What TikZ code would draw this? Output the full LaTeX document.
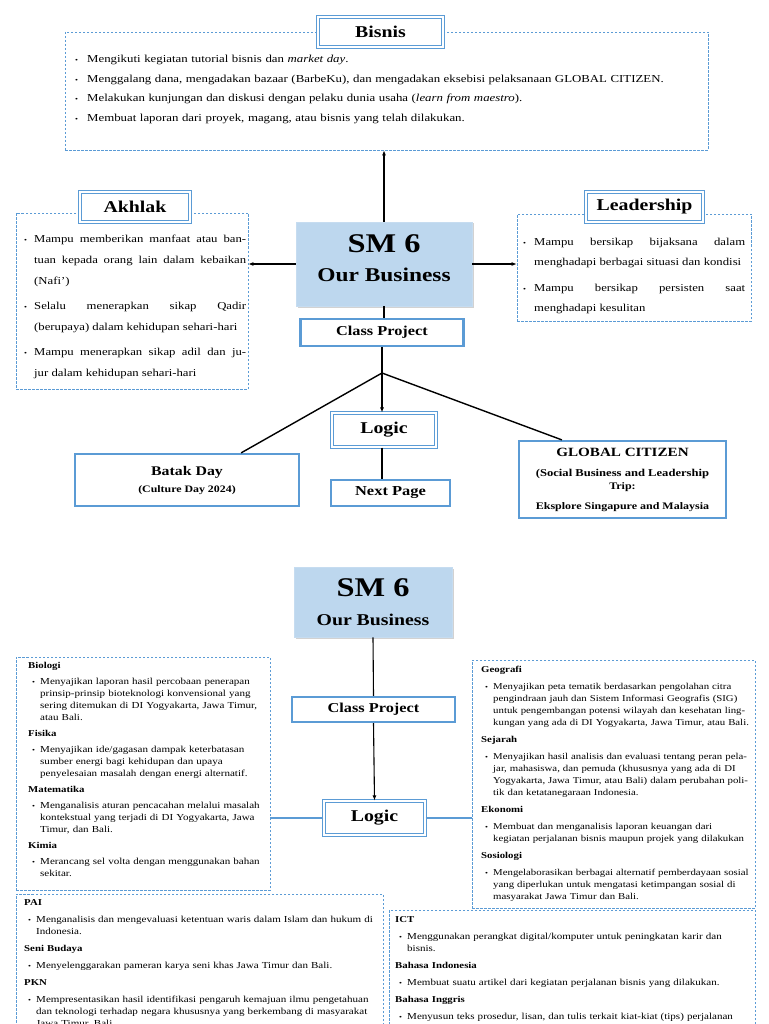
\documentclass[tikz,border=0pt]{standalone}
\usepackage{fontspec}
\setmainfont{Liberation Serif}[FakeStretch=1.2]
\usetikzlibrary{arrows.meta,shadows}
\definecolor{ofblue}{RGB}{91,155,213}
\definecolor{smfill}{RGB}{189,215,238}
\newcommand{\bul}{{\fontsize{7}{7}\selectfont\textbullet}}
\newcommand{\itm}[1][12pt]{\noindent\hangindent=#1\hangafter=1\makebox[#1][l]{\bul}\ignorespaces}
\newcommand{\sitm}{\noindent\hangindent=12pt\hangafter=1\hspace*{4pt}\makebox[8pt][l]{\bul}\ignorespaces}
\newcommand{\subj}[1]{\noindent{\fontsize{9}{12}\selectfont\bfseries #1}}

\begin{document}
\begin{tikzpicture}[x=1pt,y=-1pt,
      dashbox/.style={draw=ofblue, line width=0.7pt, dash pattern=on 2.5pt off 1.5pt, minimum width=#1},
      titlebox/.style={draw=ofblue, double=white, double distance=1.1pt, line width=1.1pt, fill=white,
        drop shadow={opacity=0.25, shadow xshift=1pt, shadow yshift=-1pt},
        font=\fontsize{16.5}{18}\selectfont\bfseries, inner sep=0pt},
      thickbox/.style={draw=ofblue, line width=2.2pt, fill=white, font=\bfseries, align=center, inner sep=0pt},
      smbox/.style={draw=ofblue!35, line width=0.8pt, fill=smfill, align=center, font=\bfseries, inner sep=0pt,
        drop shadow={opacity=0.35, shadow xshift=1.5pt, shadow yshift=-1.5pt}},
      bodytxt/.style={inner sep=0pt, anchor=north west, align=left},
      link/.style={line width=1.4pt},
      arrowlink/.style={line width=1.1pt, -{Latex[length=5pt,width=4pt]}},
      bluelink/.style={draw=ofblue, line width=1.6pt}]

  \useasboundingbox (0,0) rectangle (768,1024);
  \clip (0,0) rectangle (768,1024);
  \fill[white] (0,0) rectangle (768,1024);

  % first page: the three outer boxes
  \node[dashbox=643, minimum height=118] (bisnis) at (386.5,91) {};
  \node[dashbox=232, minimum height=176] (akhlak) at (132,301) {};
  \node[dashbox=234, minimum height=107] (leader) at (634,267.5) {};
  \node[titlebox, minimum width=125, minimum height=30] (bisnistitle) at (380.5,32) {Bisnis};
  \node[titlebox, minimum width=110, minimum height=30] (akhlaktitle) at (135,207) {Akhlak};
  \node[titlebox, minimum width=117, minimum height=30] (leadertitle) at (644.5,207) {Leadership};

  \node[bodytxt, text width=630, font=\fontsize{10.7}{19.5}\selectfont] (bisnistxt) at (75,55) {
    \itm Mengikuti kegiatan tutorial bisnis  dan \textit{market day}.

    \itm Menggalang dana, mengadakan bazaar (BarbeKu), dan mengadakan eksebisi pelaksanaan GLOBAL CITIZEN.

    \itm Melakukan kunjungan dan diskusi dengan pelaku dunia usaha  (\textit{learn from maestro}).

    \itm Membuat laporan dari proyek, magang, atau bisnis yang telah dilakukan.\par};
  \node[bodytxt, align=justify, text width=222, font=\fontsize{10.6}{21}\selectfont,
        execute at begin node=\setlength{\parskip}{4pt}] (akhlaktxt) at (24,235) {
    \itm[10pt] Mampu memberikan manfaat atau ban-\linebreak tuan kepada orang lain dalam kebaikan\linebreak (Nafi’)

    \itm[10pt] Selalu menerapkan sikap Qadir\linebreak (berupaya) dalam kehidupan sehari-hari

    \itm[10pt] Mampu menerapkan sikap adil dan ju-\linebreak jur dalam kehidupan sehari-hari\par};
  \node[bodytxt, align=justify, text width=222, font=\fontsize{10.6}{20}\selectfont,
        execute at begin node=\setlength{\parskip}{6pt}] (leadertxt) at (523,238) {
    \itm[11pt] Mampu bersikap bijaksana dalam\linebreak menghadapi berbagai situasi dan kondisi

    \itm[11pt] Mampu bersikap persisten saat\linebreak menghadapi kesulitan\par};

  % first page: the tree
  \node[smbox, minimum width=176, minimum height=84, text depth=12pt] (sm) at (384,264)
    {\fontsize{27}{30}\selectfont SM 6\\[15pt]\fontsize{19.5}{22}\selectfont Our Business};
  \node[thickbox, minimum width=163, minimum height=27, font=\fontsize{13.6}{15}\selectfont\bfseries] (cproj) at (382,332.5) {Class Project};
  \coordinate (fork) at (382,373);
  \node[titlebox, minimum width=104, minimum height=34] (logic) at (384,430) {Logic};
  \node[thickbox, minimum width=119, minimum height=26, font=\fontsize{13.7}{15}\selectfont\bfseries] (nextp) at (390.5,493) {Next Page};
  \node[thickbox, minimum width=224, minimum height=52] (batak) at (187,480)
    {\fontsize{13.2}{15}\selectfont Batak Day\\[5pt]\fontsize{9.9}{12}\selectfont (Culture Day 2024)};
  \node[thickbox, minimum width=207, minimum height=77] (global) at (622.5,479.5)
    {\fontsize{12.6}{14}\selectfont GLOBAL CITIZEN\\[8pt]
     \fontsize{10.5}{13}\selectfont (Social Business and Leadership\\[1pt] Trip:\\[8pt]
     Eksplore Singapure and Malaysia};

  \draw[arrowlink] (sm.north) -- (sm.north |- bisnis.south);
  \draw[arrowlink] (sm.west) -- (sm.west -| akhlak.east);
  \draw[arrowlink] (sm.east) -- (sm.east -| leader.west);
  \draw[link] (sm.south) -- (sm.south |- cproj.north);
  \draw[link] (cproj.south) -- (fork);
  \draw[link] (fork) -- ([xshift=-59pt]batak.north east);
  \draw[link] (fork) -- ([xshift=44pt]global.north west);
  \draw[arrowlink] (fork) -- (fork |- logic.north);
  \draw[link] (fork |- logic.south) -- (fork |- nextp.north);

  % second page
  \node[smbox, minimum width=158, minimum height=70] (smb) at (373,602)
    {\fontsize{27}{30}\selectfont SM 6\\[17pt]\fontsize{16.5}{19}\selectfont Our Business};
  \node[thickbox, minimum width=163, minimum height=25, font=\fontsize{13.6}{15}\selectfont\bfseries] (cprojb) at (373.5,709.5) {Class Project};
  \node[titlebox, minimum width=101, minimum height=34] (logicb) at (374.5,818) {Logic};

  \node[dashbox=254, minimum height=233] (sciL) at (143,773.5) {};
  \node[dashbox=283, minimum height=248] (sciR) at (613.5,784) {};
  \node[dashbox=367, minimum height=140] (soc) at (199.5,964) {};
  \node[dashbox=366, minimum height=124] (lang) at (572,972) {};

  \draw[link, line width=1.1pt] (smb.south) -- (cprojb.north);
  \draw[arrowlink] (cprojb.south) -- (logicb.north);
  \draw[bluelink] (logicb.west) -- (logicb.west -| sciL.east);
  \draw[bluelink] (logicb.east) -- (logicb.east -| sciR.west);

  \node[bodytxt, text width=260, font=\fontsize{9.2}{12}\selectfont,
        execute at begin node=\setlength{\parskip}{4pt}] (sciLtxt) at (28,662) {
    \subj{Biologi}

    \sitm Menyajikan laporan hasil percobaan penerapan\newline prinsip-prinsip bioteknologi konvensional yang\newline sering ditemukan di DI Yogyakarta, Jawa Timur,\newline atau Bali.

    \subj{Fisika}

    \sitm Menyajikan ide/gagasan dampak keterbatasan\newline sumber energi bagi kehidupan dan upaya\newline penyelesaian masalah dengan energi alternatif.

    \subj{Matematika}

    \sitm Menganalisis aturan pencacahan melalui masalah\newline kontekstual yang terjadi di DI Yogyakarta, Jawa\newline Timur, dan Bali.

    \subj{Kimia}

    \sitm Merancang sel volta dengan menggunakan bahan\newline sekitar.\par};
  \node[bodytxt, text width=300, font=\fontsize{9}{12}\selectfont,
        execute at begin node=\setlength{\parskip}{5pt}] (sciRtxt) at (481,666) {
    \subj{Geografi}

    \sitm Menyajikan peta tematik berdasarkan pengolahan citra\newline pengindraan jauh dan Sistem Informasi Geografis (SIG)\newline untuk pengembangan potensi wilayah dan kesehatan ling-\newline kungan yang ada di DI Yogyakarta, Jawa Timur, atau Bali.

    \subj{Sejarah}

    \sitm Menyajikan hasil analisis dan evaluasi tentang peran pela-\newline jar, mahasiswa, dan pemuda (khususnya yang ada di DI\newline Yogyakarta, Jawa Timur, atau Bali) dalam perubahan poli-\newline tik dan ketatanegaraan Indonesia.

    \subj{Ekonomi}

    \sitm Membuat dan menganalisis laporan keuangan dari\newline kegiatan perjalanan bisnis maupun projek yang dilakukan

    \subj{Sosiologi}

    \sitm Mengelaborasikan berbagai alternatif pemberdayaan sosial\newline yang diperlukan untuk mengatasi ketimpangan sosial di\newline masyarakat Jawa Timur dan Bali.\par};
  \node[bodytxt, text width=380, font=\fontsize{9.2}{12}\selectfont,
        execute at begin node=\setlength{\parskip}{5pt}] (soctxt) at (24,899) {
    \subj{PAI}

    \sitm Menganalisis dan mengevaluasi ketentuan waris dalam Islam dan hukum di\newline Indonesia.

    \subj{Seni Budaya}

    \sitm Menyelenggarakan pameran karya seni khas Jawa Timur dan Bali.

    \subj{PKN}

    \sitm Mempresentasikan hasil identifikasi pengaruh kemajuan ilmu pengetahuan\newline dan teknologi terhadap negara khususnya yang berkembang di masyarakat\newline Jawa Timur, Bali.\par};
  \node[bodytxt, text width=380, font=\fontsize{9.2}{12}\selectfont,
        execute at begin node=\setlength{\parskip}{5pt}] (langtxt) at (395,916) {
    \subj{ICT}

    \sitm Menggunakan perangkat digital/komputer untuk peningkatan karir dan\newline bisnis.

    \subj{Bahasa Indonesia}

    \sitm Membuat suatu artikel dari kegiatan perjalanan bisnis yang dilakukan.

    \subj{Bahasa Inggris}

    \sitm Menyusun teks prosedur, lisan, dan tulis terkait kiat-kiat (tips) perjalanan\par};

\end{tikzpicture}
\end{document}
